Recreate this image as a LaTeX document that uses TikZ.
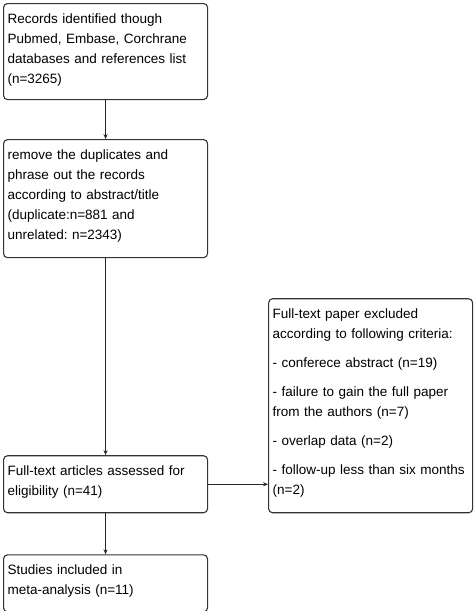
\documentclass[tikz,border=0pt]{standalone}
\usepackage{fontspec}
\setmainfont{Liberation Sans}
\frenchspacing
\usetikzlibrary{positioning, arrows.meta}
\tikzset{kasten/.style={rectangle,draw=black!80,line width=1.1pt,rounded corners=4pt,
	text width=196pt, align=left, inner xsep=4pt, inner ysep=0pt,
	text height=20pt, font=\fontsize{13.5}{20}\selectfont},
	pfeil/.style={-{Stealth[length=5pt,width=4pt]}, line width=0.9pt, draw=black!85} }

\begin{document}
\begin{tikzpicture}[x=1pt, y=1pt]
  \useasboundingbox (0,0) rectangle (474,-611);

  \node (rec) [kasten, text depth=76pt, anchor=north west] at (3,-3)
  	{Records identified though\\ Pubmed, Embase, Corchrane\\ databases and references list\\ (n=3265)};
  \node (dup) [kasten, text depth=98pt, below=39pt of rec]
  	{remove the duplicates and\\ phrase out the records\\ according to abstract/title\\ (duplicate:n=881 and\\ unrelated: n=2343)};
  \node (full) [kasten, text depth=37pt, below=197pt of dup]
  	{Full-text articles assessed for\\ eligibility (n=41)};
  \node (incl) [kasten, text depth=37pt, below=41pt of full]
  	{Studies included in\\ meta-analysis (n=11)};
  \node (excl) [kasten, text depth=194pt, right=60pt of full.south east, anchor=south west]
  	{Full-text paper excluded\\ according to following criteria:\\[9pt]
  	 - conferece abstract (n=19)\\[9pt]
  	 - failure to gain the full paper\\ from the authors (n=7)\\[9pt]
  	 - overlap data (n=2)\\[9pt]
  	 - follow-up less than six months\\ (n=2)};

  \draw [pfeil] (rec) -- (dup);
  \draw [pfeil] (dup) -- (full);
  \draw [pfeil] (full) -- (incl);
  \draw [pfeil] (full.east) -- (full.east -| excl.west);
\end{tikzpicture}
\end{document}
